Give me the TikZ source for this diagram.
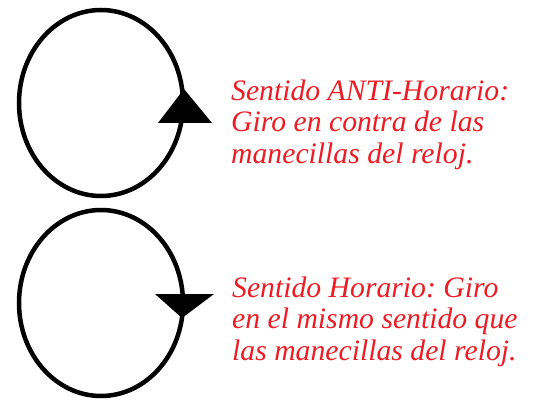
\documentclass[tikz,border=0pt]{standalone}
\usepackage{fontspec}
\setmainfont{Liberation Serif}
\frenchspacing
\definecolor{rojo}{RGB}{237,28,36}
\tikzset{
  giro/.style={line width=4.5pt, black},
  punta/.style={fill=black},
  texto/.style={rojo, font=\itshape\fontsize{29.7}{31.5}\selectfont, align=left, anchor=base west, inner sep=0pt}
}
\begin{document}
\begin{tikzpicture}[x=1pt,y=1pt]
	\useasboundingbox (0,0) rectangle (534,410);

	% antihorario
	\draw[giro] (101,307) ellipse (82 and 93);
	\fill[punta] (184,321) -- (158,287) -- (212,287) -- cycle;
	\node[texto] (anti) at (231,247) {Sentido ANTI-Horario:\\Giro en contra de las\\manecillas del reloj.};

	% horario
	\draw[giro] (101,107) ellipse (82 and 93);
	\fill[punta] (155,116) -- (214,116) -- (182,92) -- cycle;
	\node[texto] (hor) at (232,50) {Sentido Horario: Giro\\en el mismo sentido que\\las manecillas del reloj.};
\end{tikzpicture}
\end{document}
